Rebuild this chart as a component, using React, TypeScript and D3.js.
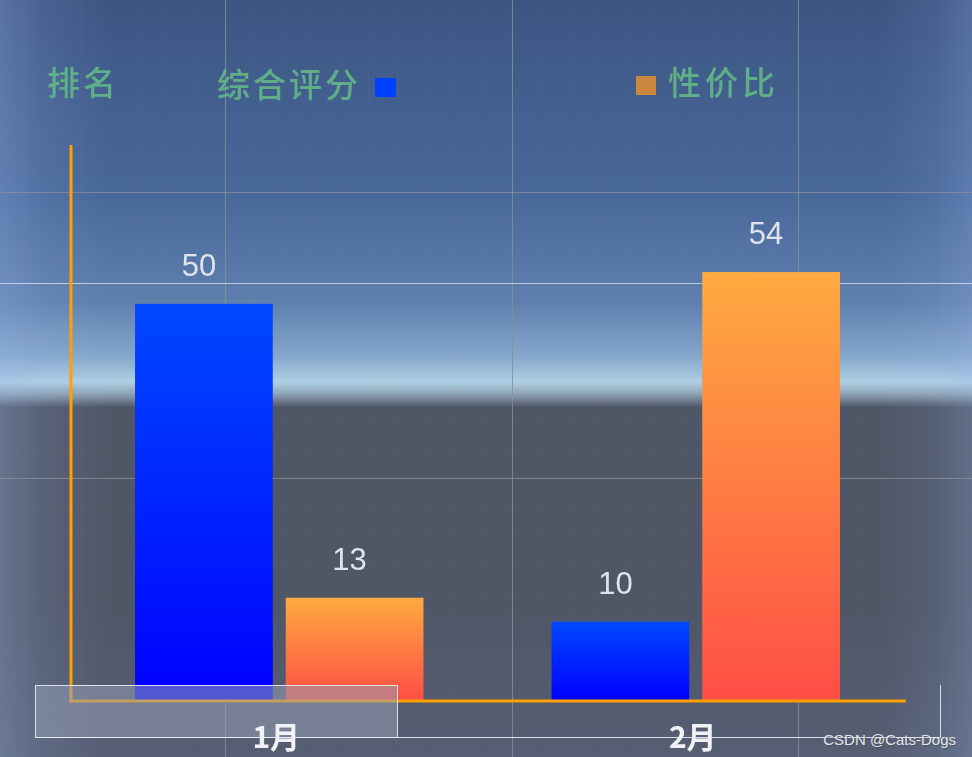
import React from "react";
import * as d3 from "d3";

const categories = ["1月", "2月"];
const seriesNames = ["综合评分", "性价比"];
const scoreValues = [50, 10];
const valueForMoneyValues = [13, 54];
const yMax = 70;

const W = 972;
const H = 757;

const axisColor = "#ffa000";
const legendText = "#5eae88";
const cjk = "'Noto Sans CJK SC', 'Noto Sans', sans-serif";
const latin = "'Liberation Sans', Arial, sans-serif";

const App: React.FC = () => {
  const x0 = d3.scaleBand<string>().domain(categories).range([71, 904]).padding(0);
  const x1 = d3
    .scaleBand<string>()
    .domain(seriesNames)
    .range([0, x0.bandwidth()])
    .paddingInner(0.086)
    .paddingOuter(0.425);
  const y = d3.scaleLinear().domain([0, yMax]).range([701, 145]);

  const rows = categories.map((c, i) => ({
    category: c,
    values: [scoreValues[i], valueForMoneyValues[i]],
  }));

  // faint scene grid (decoration)
  const minorX = d3.range(-8, 36).map((i) => 225 + i * 28.7);
  const minorY = d3.range(-7, 20).map((i) => 192 + i * 28.6);

  return (
    <div style={{ position: "fixed", left: 0, top: 0 }}>
      <svg width={W} height={H} style={{ display: "block" }}>
        <defs>
          <linearGradient id="sky" x1="0" y1="0" x2="0" y2="1">
            <stop offset="0" stopColor="#3c5683" />
            <stop offset="0.26" stopColor="#48689a" />
            <stop offset="0.4" stopColor="#5f80ae" />
            <stop offset="0.47" stopColor="#84a6cb" />
            <stop offset="0.505" stopColor="#aecfe4" />
            <stop offset="0.522" stopColor="#8a9db0" />
            <stop offset="0.538" stopColor="#4f5666" />
            <stop offset="0.8" stopColor="#4f5666" />
            <stop offset="1" stopColor="#565e74" />
          </linearGradient>
          <linearGradient id="vigL" x1="0" y1="0" x2="1" y2="0">
            <stop offset="0" stopColor="#9ab8ee" stopOpacity="0.3" />
            <stop offset="0.4" stopColor="#9ab8ee" stopOpacity="0.12" />
            <stop offset="1" stopColor="#9ab8ee" stopOpacity="0" />
          </linearGradient>
          <linearGradient id="vigR" x1="1" y1="0" x2="0" y2="0">
            <stop offset="0" stopColor="#9ab8ee" stopOpacity="0.25" />
            <stop offset="0.4" stopColor="#9ab8ee" stopOpacity="0.1" />
            <stop offset="1" stopColor="#9ab8ee" stopOpacity="0" />
          </linearGradient>
          <linearGradient id="barBlue" x1="0" y1="0" x2="0" y2="1">
            <stop offset="0" stopColor="#0048ff" />
            <stop offset="1" stopColor="#0000ff" />
          </linearGradient>
          <linearGradient id="barOrange" x1="0" y1="0" x2="0" y2="1">
            <stop offset="0" stopColor="#ffaa40" />
            <stop offset="1" stopColor="#ff4e46" />
          </linearGradient>
          <filter id="soft" x="-10%" y="-10%" width="120%" height="120%">
            <feGaussianBlur stdDeviation="0.7" />
          </filter>
        </defs>

        {/* Background scene */}
        <rect x={0} y={0} width={W} height={H} fill="url(#sky)" />
        <rect x={0} y={0} width={110} height={H} fill="url(#vigL)" />
        <rect x={W - 90} y={0} width={90} height={H} fill="url(#vigR)" />

        {minorX.map((gx, i) => (
          <line key={"mx" + i} x1={gx} x2={gx} y1={0} y2={H} stroke="#ffffff" strokeOpacity={0.025} />
        ))}
        {minorY.map((gy, i) => (
          <line key={"my" + i} x1={0} x2={W} y1={gy} y2={gy} stroke="#ffffff" strokeOpacity={0.025} />
        ))}
        {[225, 512, 798].map((gx) => (
          <line key={"vx" + gx} x1={gx + 0.5} x2={gx + 0.5} y1={0} y2={H} stroke="#8a8e96" strokeOpacity={0.8} />
        ))}
        {[192, 478].map((gy) => (
          <line key={"hy" + gy} x1={0} x2={W} y1={gy + 0.5} y2={gy + 0.5} stroke="#8a8e96" strokeOpacity={0.8} />
        ))}
        <line x1={0} x2={W} y1={283.5} y2={283.5} stroke="#dde6f2" strokeOpacity={0.75} />

        {/* Legend */}
        <g fontFamily={cjk} fontSize={33} fontWeight={500} fill={legendText} filter="url(#soft)">
          <text x={47} y={95} letterSpacing={3}>排名</text>
          <text x={217} y={97} letterSpacing={3}>{seriesNames[0]}</text>
          <text x={668} y={95} letterSpacing={4}>{seriesNames[1]}</text>
        </g>
        <rect x={375} y={78} width={21} height={19} fill="#0040ff" />
        <rect x={636} y={76} width={20} height={19} fill="#cc883e" />

        {/* Bars */}
        {rows.map((r) => (
          <g key={r.category} transform={`translate(${x0(r.category)},0)`}>
            {r.values.map((v, j) => (
              <rect
                key={seriesNames[j]}
                x={x1(seriesNames[j])}
                y={y(v)}
                width={x1.bandwidth()}
                height={y(0) - y(v)}
                fill={j === 0 ? "url(#barBlue)" : "url(#barOrange)"}
              />
            ))}
            {r.values.map((v, j) => (
              <text
                key={"l" + seriesNames[j]}
                x={(x1(seriesNames[j]) ?? 0) + x1.bandwidth() / 2 - 5}
                y={y(v) - 28}
                textAnchor="middle"
                fontFamily={latin}
                fontSize={31}
                fill="#dfe4ec"
                filter="url(#soft)"
              >
                {v}
              </text>
            ))}
          </g>
        ))}

        {/* Axes */}
        <line x1={71} x2={71} y1={145} y2={702.5} stroke={axisColor} strokeWidth={3} />
        <line x1={69.5} x2={906} y1={701} y2={701} stroke={axisColor} strokeWidth={3} />

        {/* Selection overlay */}
        <rect x={35.5} y={685.5} width={362} height={52} fill="rgb(148,156,178)" fillOpacity={0.55} stroke="#e8ecf2" strokeOpacity={0.9} />
        <line x1={35} x2={940.5} y1={737.5} y2={737.5} stroke="#e8ecf2" strokeOpacity={0.9} />
        <line x1={940.5} x2={940.5} y1={685} y2={737.5} stroke="#e8ecf2" strokeOpacity={0.9} />

        {/* Category labels */}
        {categories.map((c) => (
          <text
            key={c}
            x={(x0(c) ?? 0) + x0.bandwidth() / 2 - 3}
            y={748}
            textAnchor="middle"
            fontFamily={cjk}
            fontSize={30}
            fontWeight={700}
            fill="#f0f2f6"
            filter="url(#soft)"
          >
            {c}
          </text>
        ))}

        {/* Watermark */}
        <text x={956} y={745} textAnchor="end" fontFamily={latin} fontSize={15} fill="#404652" opacity={0.6} dx={1} dy={1}>
          CSDN @Cats-Dogs
        </text>
        <text x={956} y={745} textAnchor="end" fontFamily={latin} fontSize={15} fill="#e4e6ea">
          CSDN @Cats-Dogs
        </text>
      </svg>
    </div>
  );
};

export default App;
